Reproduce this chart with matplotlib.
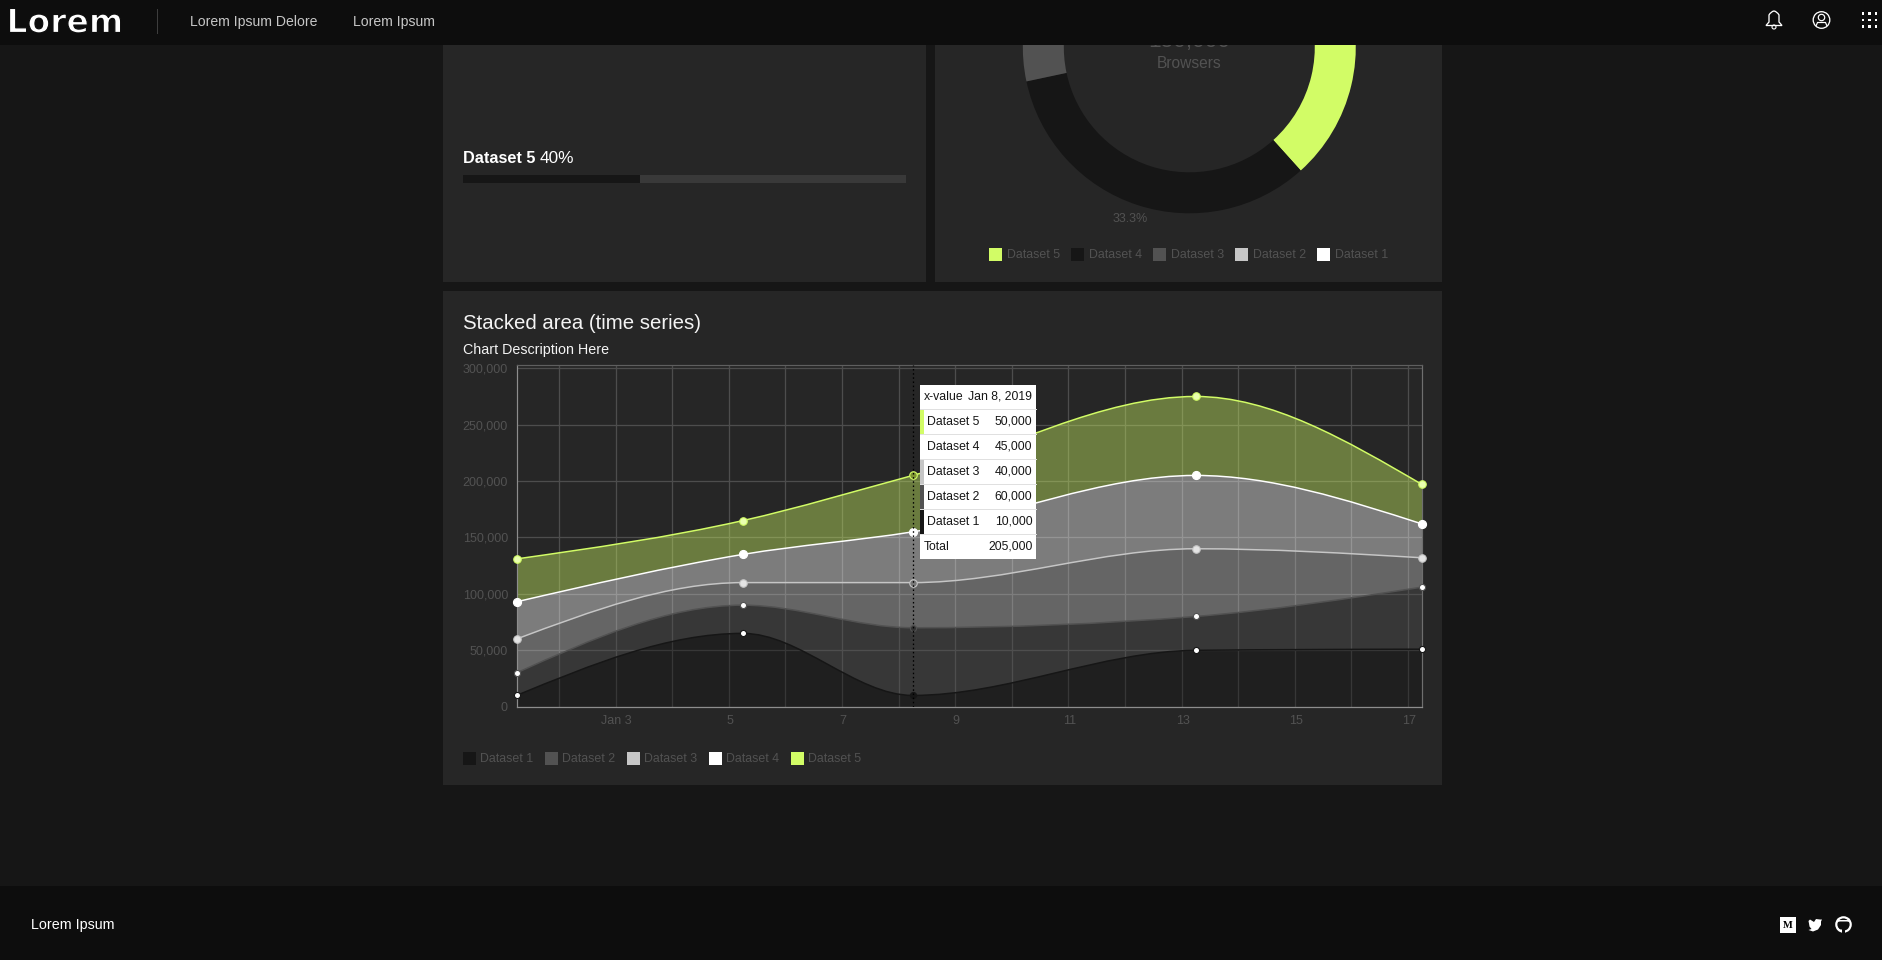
import numpy as np
import matplotlib
matplotlib.use("Agg")
import matplotlib.pyplot as plt
import matplotlib.patheffects as pe
from matplotlib.patches import Rectangle, PathPatch, Circle, Polygon
from matplotlib.path import Path
from matplotlib.ticker import FuncFormatter, FixedLocator
from matplotlib.transforms import ScaledTranslation

plt.rcParams['font.family'] = ['Liberation Sans', 'DejaVu Sans']

# ---- data ----
days = [1.25, 5.25, 8.25, 13.25, 17.25]
dataset_1 = [10000, 65000, 10000, 50000, 51000]
dataset_2 = [20000, 25000, 60000, 30000, 55000]
dataset_3 = [30000, 20000, 40000, 60000, 26000]
dataset_4 = [33000, 25000, 45000, 65000, 30000]
dataset_5 = [38000, 30000, 50000, 70000, 35000]
series_names = ["Dataset 1", "Dataset 2", "Dataset 3", "Dataset 4", "Dataset 5"]
series_colors = ["#161616", "#525252", "#c6c6c6", "#ffffff", "#d2fc66"]
marker_faces = ["#ffffff", "#ffffff", "#e4e4e4", "#ffffff", "#eaffb0"]
hover_faces = ["#161616", "#333333", "#777777", "#ffffff", "#7d9432"]
marker_sizes = [4.4, 4.4, 5.4, 5.8, 5.4]
y_ticks = [0, 50000, 100000, 150000, 200000, 250000, 300000]
x_major = [3, 5, 7, 9, 11, 13, 15, 17]
x_minor = [2, 4, 6, 8, 10, 12, 14, 16]
x_labels = ["Jan 3", "5", "7", "9", "11", "13", "15", "17"]
tooltip_rows = [("Dataset 5", "50,000"), ("Dataset 4", "45,000"), ("Dataset 3", "40,000"),
                ("Dataset 2", "60,000"), ("Dataset 1", "10,000")]
tooltip_total = "205,000"
donut_names = ["Dataset 5", "Dataset 4", "Dataset 3", "Dataset 2", "Dataset 1"]
donut_values = [57500, 50000, 25000, 12500, 5000]
donut_colors = ["#d2fc66", "#161616", "#525252", "#c6c6c6", "#ffffff"]
progress_value = 40

W, H = 1883, 960
PAGE, HEAD, PANEL, MUTED = "#161616", "#0d0d0d", "#262626", "#525252"
px = 0.72  # points per pixel at dpi 100

fig = plt.figure(figsize=(W / 100, H / 100), dpi=100, facecolor=PAGE)


def pixel_axes(z):
    a = fig.add_axes([0, 0, 1, 1], zorder=z)
    a.set_xlim(0, W)
    a.set_ylim(H, 0)
    a.axis("off")
    a.patch.set_alpha(0)
    return a


def axes_at(x0, y0, x1, y1, z):
    return fig.add_axes([x0 / W, 1 - y1 / H, (x1 - x0) / W, (y1 - y0) / H], zorder=z)


# ---- panels ----
back = pixel_axes(0)
for x0, y0, x1, y1 in [(443, 0, 925.7, 282), (935, 0, 1441.7, 282), (443, 291.3, 1441.7, 785.3)]:
    back.add_patch(Rectangle((x0, y0), x1 - x0, y1 - y0, fc=PANEL, ec="none"))

# progress panel
back.text(463.3, 162.7, "Dataset 5", color="white", fontsize=16.3 * px, fontweight="bold", va="baseline")
back.text(540, 162.7, f"{progress_value}%", color="white", fontsize=17.3 * px, va="baseline")
bar_x, bar_w = 463, 443
back.add_patch(Rectangle((bar_x, 175), bar_w, 7.7, fc="#393939", ec="none"))
back.add_patch(Rectangle((bar_x, 175), bar_w * progress_value / 100, 7.7, fc="#161616", ec="none"))

# ---- donut ----
cx, cy, R = 1189.3, 46.8, 166.5
don = axes_at(cx - R, cy - R, cx + R, cy + R, 1)
don.pie(donut_values, colors=donut_colors, startangle=90, counterclock=False, radius=1,
        wedgeprops=dict(width=41 / R, edgecolor="none"))
don.set_xlim(-1, 1)
don.set_ylim(-1, 1)
don.set_aspect("equal")
back_txt = pixel_axes(1.5)
back_txt.text(cx, 47.5, f"{sum(donut_values):,}", color=MUTED, fontsize=22.5 * px, ha="center", va="baseline")
back_txt.text(cx, 63.7, "Browsers", color=MUTED, fontsize=15.5 * px, ha="center", va="center")
back_txt.text(1130.2, 218.7, f"{donut_values[1] / sum(donut_values) * 100:.1f}%", color=MUTED,
              fontsize=12.5 * px, ha="center", va="center")
for i, (n, c) in enumerate(zip(donut_names, donut_colors)):
    x = 989.4 + 82 * i
    back_txt.add_patch(Rectangle((x, 248), 13, 12.7, fc=c, ec="none"))
    back_txt.text(x + 17.2, 254.5, n, color=MUTED, fontsize=12.4 * px, va="center")


# ---- stacked area ----
def monotone_slopes(x, y):
    x, y = np.asarray(x, float), np.asarray(y, float)
    h = np.diff(x)
    s = np.diff(y) / h
    t = np.zeros_like(y)
    for i in range(1, len(y) - 1):
        p = (s[i - 1] * h[i] + s[i] * h[i - 1]) / (h[i - 1] + h[i])
        t[i] = (np.sign(s[i - 1]) + np.sign(s[i])) * min(abs(s[i - 1]), abs(s[i]), 0.5 * abs(p))
    t[0] = (3 * s[0] - t[1]) / 2
    t[-1] = (3 * s[-1] - t[-2]) / 2
    return t


def curve_segments(x, y):
    t = monotone_slopes(x, y)
    pts = []
    for i in range(len(x) - 1):
        d = (x[i + 1] - x[i]) / 3
        pts += [(x[i] + d, y[i] + d * t[i]), (x[i + 1] - d, y[i + 1] - d * t[i + 1]), (x[i + 1], y[i + 1])]
    return pts


ax = axes_at(516.6, 365, 1422, 706.7, 2)
ax.set_facecolor("none")
ax.set_xlim(days[0], days[-1])
ax.set_ylim(0, 302900)
ax.yaxis.set_major_locator(FixedLocator(y_ticks))
ax.yaxis.set_major_formatter(FuncFormatter(lambda v, _: f"{int(v):,}"))
ax.set_xticks(x_major)
ax.set_xticklabels(x_labels)
ax.xaxis.set_minor_locator(FixedLocator(x_minor))
ax.tick_params(which="both", length=0)
ax.tick_params(axis="y", pad=6.2, labelsize=12.5 * px, labelcolor=MUTED)
ax.tick_params(axis="x", pad=6.2, labelsize=12.5 * px, labelcolor=MUTED)
nudge = ScaledTranslation(1 / 100, 0, fig.dpi_scale_trans)
for lab in ax.get_xticklabels():
    lab.set_transform(lab.get_transform() + nudge)
ax.grid(True, which="both", color="#4d4d4d", lw=1.3 * px, zorder=0)
ax.set_axisbelow(True)
for side, c in [("left", "#8d8d8d"), ("bottom", "#8d8d8d"), ("top", "#5f5f5f"), ("right", "#6f6f6f")]:
    ax.spines[side].set_color(c)
    ax.spines[side].set_linewidth(1.2 * px)

stack = np.cumsum([dataset_1, dataset_2, dataset_3, dataset_4, dataset_5], axis=0)
base = np.zeros(len(days))
for k, (top, col) in enumerate(zip(stack, series_colors)):
    upper = curve_segments(days, top)
    lower = curve_segments(days[::-1], base[::-1])
    verts = [(days[0], top[0])] + upper + [(days[-1], base[-1])] + lower + [(days[0], top[0])]
    codes = [Path.MOVETO] + [Path.CURVE4] * len(upper) + [Path.LINETO] + [Path.CURVE4] * len(lower) + [Path.CLOSEPOLY]
    ax.add_patch(PathPatch(Path(verts, codes), fc=col, ec="none", alpha=0.4, zorder=1))
    base = top

for k, (top, col) in enumerate(zip(stack, series_colors)):
    upper = curve_segments(days, top)
    ax.add_patch(PathPatch(Path([(days[0], top[0])] + upper, [Path.MOVETO] + [Path.CURVE4] * len(upper)),
                           fc="none", ec=col, lw=1.5 * px, zorder=3))
    for i, (d, v) in enumerate(zip(days, top)):
        face = hover_faces[k] if i == 2 else marker_faces[k]
        ax.plot([d], [v], "o", ms=marker_sizes[k], mfc=face, mec=col, mew=0.8, clip_on=False, zorder=4)

ax.plot([days[2], days[2]], [0, 302900], color="black", lw=1.3 * px, dashes=(1.2, 2.0), zorder=5)

# chart text and legend
top_ax = pixel_axes(3)
top_ax.text(462.6, 329, "Stacked area (time series)", color="#f4f4f4", fontsize=20.4 * px, va="baseline")
top_ax.text(462.6, 354, "Chart Description Here", color="#f4f4f4", fontsize=14.2 * px, va="baseline")
for i, (n, c) in enumerate(zip(series_names, series_colors)):
    x = 462.6 + 82 * i
    top_ax.add_patch(Rectangle((x, 752.3), 13, 12.7, fc=c, ec="none"))
    top_ax.text(x + 17.6, 758.7, n, color=MUTED, fontsize=12.4 * px, va="center")

# tooltip
tx0, tx1, ty0, row_h = 919.8, 1036, 385, 25
top_ax.add_patch(Rectangle((tx0, ty0), tx1 - tx0, 174, fc="white", ec="none"))
INK = "#161616"
fs = 12.2 * px
top_ax.text(tx0 + 3.6, ty0 + 11.7, "x-value", color=INK, fontsize=fs, va="center")
top_ax.text(tx1 - 3.6, ty0 + 11.7, "Jan 8, 2019", color=INK, fontsize=fs, va="center", ha="right")
row_colors = series_colors[::-1]
for i, (n, v) in enumerate(tooltip_rows):
    y = ty0 + row_h * (i + 1)
    top_ax.plot([tx0, tx1], [y - 0.7, y - 0.7], color="#e0e0e0", lw=1 * px)
    top_ax.add_patch(Rectangle((tx0, y), 4, row_h - 1, fc=row_colors[i], ec="none"))
    top_ax.text(tx0 + 7.6, y + 11.7, n, color=INK, fontsize=fs, va="center")
    top_ax.text(tx1 - 3.6, y + 11.7, v, color=INK, fontsize=fs, va="center", ha="right")
y = ty0 + row_h * 6
top_ax.plot([tx0, tx1], [y - 0.7, y - 0.7], color="#e0e0e0", lw=1 * px)
top_ax.text(tx0 + 3.6, y + 11.7, "Total", color=INK, fontsize=fs, va="center")
top_ax.text(tx1 - 3.6, y + 11.7, tooltip_total, color=INK, fontsize=fs, va="center", ha="right")

# ---- header and footer ----
top_ax.add_patch(Rectangle((0, 0), W, 45, fc=HEAD, ec="none", zorder=10))
top_ax.add_patch(Rectangle((0, 885.6), W, H - 885.6, fc=HEAD, ec="none", zorder=10))
def t(x, y, s, **kw):
    return top_ax.text(x, y, s, zorder=11, **kw)
logo = t(6.5, 32.5, "Lorem", color="white", fontsize=33 * px, fontweight="bold", family="DejaVu Sans", va="baseline")
logo.set_path_effects([pe.Stroke(linewidth=1.2 * px, foreground=HEAD)])
top_ax.plot([156.7, 156.7], [9, 33], color="#3d3d3d", lw=1 * px, zorder=11)
t(190, 22, "Lorem Ipsum Delore", color="#c6c6c6", fontsize=14 * px, va="center")
t(353, 22, "Lorem Ipsum", color="#c6c6c6", fontsize=14 * px, va="center")
t(31, 924.8, "Lorem Ipsum", color="white", fontsize=14.3 * px, va="center")

# bell
bell = Path([(1766, 25.5), (1769, 22), (1769, 15), (1771, 11.5), (1774, 11), (1777, 11.5), (1779, 15), (1779, 22),
             (1782, 25.5), (1766, 25.5)],
            [Path.MOVETO, Path.LINETO, Path.LINETO, Path.CURVE3, Path.CURVE3, Path.CURVE3, Path.CURVE3,
             Path.LINETO, Path.LINETO, Path.CLOSEPOLY])
top_ax.add_patch(PathPatch(bell, fc="none", ec="white", lw=1.3 * px, zorder=11))
top_ax.add_patch(Circle((1774, 27), 2, fc="none", ec="white", lw=1.1 * px, zorder=11))
# profile
top_ax.add_patch(Circle((1821.5, 20), 8.3, fc="none", ec="white", lw=1.3 * px, zorder=11))
top_ax.add_patch(Circle((1821.5, 17.5), 3.2, fc="none", ec="white", lw=1.2 * px, zorder=11))
top_ax.add_patch(PathPatch(Path([(1816, 26), (1817.5, 22.5), (1821.5, 22.5), (1825.5, 22.5), (1827, 26)],
                                [Path.MOVETO, Path.LINETO, Path.LINETO, Path.LINETO, Path.LINETO]),
                           fc="none", ec="white", lw=1.2 * px, zorder=11))
# app grid
for gx in (1863, 1869.5, 1876):
    for gy in (13.5, 20, 26.5):
        top_ax.add_patch(Rectangle((gx - 1.2, gy - 1.2), 2.4, 2.4, fc="white", ec="none", zorder=11))
# footer icons
top_ax.add_patch(Rectangle((1780, 917.3), 15.7, 15.4, fc="white", ec="none", zorder=11))
t(1787.9, 925.3, "M", color="black", fontsize=10.5 * px, fontweight="bold", family="Liberation Serif",
  ha="center", va="center")
top_ax.add_patch(Polygon([(1808.5, 921), (1810, 919.5), (1814, 922), (1816, 919), (1820, 919.5), (1822, 919.5),
                          (1821, 921.5), (1821, 925), (1818, 929.5), (1813, 931.5), (1808.5, 930),
                          (1811.5, 929), (1809.5, 926.5), (1809, 923.5)], fc="white", ec="none", zorder=11))
top_ax.add_patch(Circle((1843.5, 924.5), 7.2, fc="none", ec="white", lw=2.2 * px, zorder=11))
top_ax.add_patch(Polygon([(1837.5, 918.5), (1840, 920), (1847, 920), (1849.5, 918.5), (1849.5, 922), (1847, 921.5),
                          (1840, 921.5), (1837.5, 922)], fc="white", ec="none", zorder=11))
top_ax.add_patch(Rectangle((1841.8, 928.5), 3.4, 5, fc=HEAD, ec="none", zorder=12))
top_ax.add_patch(Polygon([(1837, 927), (1840, 929.5), (1842, 929.5), (1842, 931), (1839.5, 931)],
                         fc="white", ec="none", zorder=12))

fig.savefig("out.png", dpi=100, facecolor=PAGE)
